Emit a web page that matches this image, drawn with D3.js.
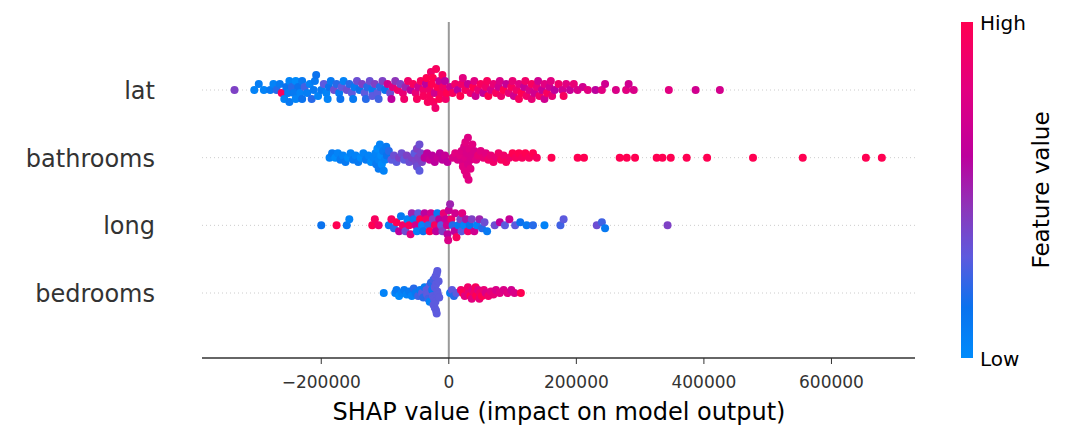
<!DOCTYPE html>
<html>
<head>
<meta charset="utf-8">
<script src="https://cdn.jsdelivr.net/npm/d3@7"></script>
<style>
body { margin: 0; background: #fff; }
text { font-family: "DejaVu Sans", sans-serif; }
</style>
</head>
<body>
<svg id="chart" width="1068" height="441"></svg>
<script>
// features top to bottom
var features = ["lat", "bathrooms", "long", "bedrooms"]
var xTicks = [-200000, 0, 200000, 400000, 600000]

// [shap value in thousands, normalised feature value]
var latPoints = [[-336,.4],[-305,.05],[-298,.08],[-290,.05],[-280,.1],[-275,.05],[-270,.2],[-265,.1],[-262,.95],[-258,.05],[-255,.15],
  [-252,.1],[-250,.05],[-246,.2],[-243,.1],[-240,0],[-236,.15],[-233,.05],[-230,.1],[-226,.25],[-222,.08],[-218,.05],[-215,.2],
  [-212,.1],[-208,.15],[-205,.05],[-200,.1],[-196,.3],[-192,.05],[-188,.15],[-185,.1],[-180,.35],[-176,.2],[-172,.1],[-168,.3],
  [-165,.05],[-160,.35],[-156,.2],[-152,.3],[-148,.1],[-144,.35],[-140,.15],[-136,.4],[-132,.3],[-128,.2],[-124,.35],[-120,.1],
  [-116,.4],[-112,.3],[-108,.2],[-104,.4],[-100,.15],[-96,.7],[-92,.35],[-88,.8],[-84,.45],[-80,.9],[-76,.4],[-72,.85],[-68,.5],
  [-64,.9],[-60,.6],[-56,.95],[-52,.85],[-48,.7],[-44,.95],[-40,.9],[-36,.6],[-33,.95],[-30,.9],[-27,1],[-24,.95],[-21,.9],
  [-18,1],[-15,.65],[-12,.95],[-9,.9],[-6,.6],[-3,1],[2,.7],[6,.95],[10,.9],[14,.6],[18,1],[22,.8],[26,.95],[30,.65],[34,.9],
  [38,1],[42,.7],[46,.85],[50,.95],[54,.65],[58,.9],[62,1],[66,.75],[70,.85],[74,.95],[78,.7],[82,.9],[86,1],[90,.65],[94,.85],
  [98,.95],[102,.7],[106,.9],[110,.8],[114,1],[118,.65],[122,.9],[126,.75],[130,.95],[134,.7],[138,.85],[142,.9],[146,.65],
  [150,.8],[154,.95],[158,.7],[162,.85],[166,.6],[172,.9],[178,.7],[184,.8],[190,.65],[196,.85],[202,.75],[210,.7],[218,.8],
  [230,.6],[240,.8],[245,.7],[262,.75],[278,.8],[282,.7],[290,.75],[345,.8],[387,.7],[425,.72],
  [-40,.95],[-35,1],[-30,.95],[-25,1],[-20,.95],[-15,1],[-10,.95],[-5,.9],[-28,.9],[-22,.7],[-250,.1],[-240,.05],[-230,.15],
  [-210,.1],[-190,.05],[-170,.15],[-150,.1],[-130,.2],[100,.85],[120,.9],[140,.7],[160,.8],[180,.95],
  [-120,.3],[-110,.25],[-90,.6],[-70,.9],[-50,.95],[20,.9],[40,.8],[60,.95],[80,.75],[110,.95],[130,.85],[150,.7]]

var bathroomsPoints = [[-187,.05],[-183,.1],[-178,0],[-174,.05],[-170,.1],[-166,.05],[-162,.1],[-158,0],[-154,.05],[-150,.1],
  [-146,.05],[-142,.1],[-138,0],[-134,.05],[-130,.1],[-126,.05],[-122,0],[-118,.05],[-114,.1],[-110,.05],[-106,0],[-102,.05],
  [-98,.1],[-94,.2],[-90,.3],[-115,.05],[-112,0],[-110,.1],[-108,.05],[-105,0],[-103,.1],[-100,.05],[-97,.15],
  [-86,.35],[-82,.3],[-78,.4],[-74,.35],[-70,.3],[-66,.4],[-62,.35],[-58,.4],[-54,.3],[-50,.4],[-46,.35],[-42,.4],
  [-52,.38],[-50,.35],[-48,.4],[-46,.3],[-44,.38],
  [-38,.6],[-34,.6],[-30,.65],[-26,.6],[-22,.6],[-18,.65],[-14,.6],[-10,.6],[-6,.65],[-2,.6],
  [6,.75],[10,.8],[14,.75],[18,.8],[22,.75],[25,.8],[28,.75],[31,.8],[34,.75],[37,.8],[40,.75],[43,.8],[46,.85],[50,.8],
  [20,.78],[22,.8],[24,.75],[26,.78],[28,.8],[30,.75],[32,.78],[34,.8],[36,.75],[26,.8],[30,.78],
  [54,.85],[58,.8],[62,.9],[66,.85],[70,.9],[74,.85],[78,.9],[82,.95],[86,.9],[90,.95],[95,.9],[100,1],[105,.95],[110,1],
  [115,.95],[120,1],[126,.95],[132,1],[138,.95],
  [161,1],[202,1],[212,1],[268,1],[279,1],[292,1],[326,1],[335,1],[348,1],[373,1],[405,1],[477,1],[555,1],[654,1],[679,1]]

var longPoints = [[-200,.15],[-176,1],[-160,.1],[-156,.05],[-120,1],[-116,.95],[-110,.9],[-94,.1],[-90,.95],[-86,.2],[-82,1],
  [-78,.6],[-75,.1],[-72,.9],[-68,.35],[-65,.05],[-62,.95],[-58,.5],[-55,.1],[-52,.7],[-48,.3],[-45,1],[-42,.05],[-38,.6],
  [-35,.9],[-32,.2],[-28,.7],[-25,.4],[-22,.95],[-18,.1],[-15,.6],[-12,.3],[-8,.85],[-5,.65],[-3,.7],[-2,.6],[-1,.75],[0,.65],
  [2,.5],[4,.9],[6,.2],[9,.6],[12,.95],[15,.1],[18,.4],[21,.8],[24,.05],[27,.55],[30,.9],[33,.15],[36,.4],[40,.7],[44,.05],
  [48,.5],[52,.2],[56,.35],[60,.1],[-60,.8],[-40,.15],[-20,.6],[-10,.4],[10,.7],[20,.3],[-30,1],[-50,.05],
  [72,.35],[80,.6],[88,.3],[95,.65],[104,.3],[112,.15],[122,.1],[132,.2],[150,.05],[175,.25],[180,.3],[232,.35],[240,.25],
  [245,.1],[343,.4]]

var bedroomsPoints = [[-102,.05],[-84,.05],[-82,.1],[-78,0],[-74,.05],[-70,.1],[-66,.05],[-62,.1],[-58,.05],[-55,.2],[-52,.1],
  [-48,.25],[-45,.1],[-42,.3],[-40,.2],[-38,.1],[-35,.3],[-32,.25],[-30,.3],[-28,.2],[-26,.3],[-24,.3],[-22,.3],[-21,.3],
  [-20,.3],[-20,.3],[-19,.3],[-19,.3],[-18,.3],[-18,.3],[-17,.3],[-16,.3],[-15,.3],[-22,.3],[-21,.3],[-23,.3],[-24,.25],
  [-25,.3],[-26,.1],[-30,.05],[-34,.3],[2,.1],[5,.3],[8,.2],[12,.3],
  [19,.9],[22,1],[25,.8],[28,.95],[31,.85],[34,1],[37,.8],[40,.9],[43,1],[46,.8],[49,.9],[52,1],[55,.85],[58,.75],[62,.9],
  [66,.8],[70,.85],[74,.75],[80,.8],[86,.75],[92,.8],[98,.7],[103,.75],[113,1],[30,.9],[36,.8],[42,.95],[48,.85]]

var rows = { lat: latPoints, bathrooms: bathroomsPoints, long: longPoints, bedrooms: bedroomsPoints }

var svg = d3.select("#chart")

var x = d3.scaleLinear().domain([-387000, 731000]).range([202, 915])
var y = d3.scalePoint().domain(features).range([90, 293])

var color = d3.scaleLinear()
  .domain([0, .15, .3, .45, .6, .8, 1])
  .range(["#008bfb", "#0a72ee", "#5d5ade", "#8e35b9", "#bd009d", "#e20080", "#ff0052"])
  .interpolate(d3.interpolateRgb)

// dotted guide lines
svg.selectAll(".guide").data(features).enter().append("line")
  .attr("x1", 202).attr("x2", 915)
  .attr("y1", function(d){ return y(d) }).attr("y2", function(d){ return y(d) })
  .attr("stroke", "#ccc").attr("stroke-dasharray", "1,3").attr("stroke-width", 1)

// zero line
svg.append("line").attr("x1", x(0)).attr("x2", x(0)).attr("y1", 22).attr("y2", 358)
  .attr("stroke", "#999").attr("stroke-width", 2)

// simple swarm placement
var swarm = function(pts) {
  var placed = []
  var sorted = pts.map(function(p){ return { px: x(p[0] * 1000), v: p[1] } })
    .sort(function(a, b){ return a.px - b.px })
  sorted.forEach(function(p) {
    var k = 0, dy = 0
    while (true) {
      dy = (k % 2 == 0 ? 1 : -1) * Math.ceil(k / 2) * 3
      var ok = placed.every(function(q){
        var ddx = q.px - p.px, ddy = q.dy - dy
        return ddx * ddx + ddy * ddy >= 30
      })
      if (ok) break
      k++
    }
    p.dy = dy
    placed.push(p)
  })
  var m = d3.max(placed, function(p){ return Math.abs(p.dy) })
  if (m > 22) placed.forEach(function(p){ p.dy = p.dy * 22 / m })
  return placed
}

features.forEach(function(f) {
  var pts = swarm(rows[f])
  svg.append("g").selectAll("circle").data(pts).enter().append("circle")
    .attr("cx", function(d){ return d.px })
    .attr("cy", function(d){ return y(f) + d.dy })
    .attr("r", 4)
    .attr("fill", function(d){ return color(d.v) })
})

// x axis
var axis = svg.append("g").attr("transform", "translate(0,358)")
axis.append("line").attr("x1", 202).attr("x2", 915).attr("stroke", "#333").attr("stroke-width", 1.3)
axis.selectAll(".tick").data(xTicks).enter().append("line")
  .attr("x1", function(d){ return x(d) }).attr("x2", function(d){ return x(d) })
  .attr("y1", 0).attr("y2", 6).attr("stroke", "#333")
axis.selectAll(".tl").data(xTicks).enter().append("text")
  .attr("x", function(d){ return x(d) }).attr("y", 30)
  .attr("text-anchor", "middle").attr("font-size", 17).attr("fill", "#333")
  .text(function(d){ return d3.format("d")(d) })

svg.append("text").attr("x", 559).attr("y", 420).attr("text-anchor", "middle")
  .attr("font-size", 24).attr("fill", "#000").text("SHAP value (impact on model output)")

// feature labels
svg.selectAll(".fl").data(features).enter().append("text")
  .attr("x", 155).attr("y", function(d){ return y(d) + 9 })
  .attr("text-anchor", "end").attr("font-size", 24).attr("fill", "#333")
  .text(function(d){ return d })

// colorbar
var defs = svg.append("defs")
var grad = defs.append("linearGradient").attr("id", "cb").attr("x1", 0).attr("x2", 0).attr("y1", 1).attr("y2", 0)
d3.range(0, 1.01, 0.05).forEach(function(t){
  grad.append("stop").attr("offset", t).attr("stop-color", color(t))
})
svg.append("rect").attr("x", 961).attr("y", 22).attr("width", 12).attr("height", 336).attr("fill", "url(#cb)")
svg.append("text").attr("x", 980).attr("y", 30).attr("font-size", 20).text("High")
svg.append("text").attr("x", 980).attr("y", 366).attr("font-size", 20).text("Low")
svg.append("text").attr("transform", "translate(1049,190) rotate(-90)")
  .attr("text-anchor", "middle").attr("font-size", 23).text("Feature value")
</script>
</body>
</html>
